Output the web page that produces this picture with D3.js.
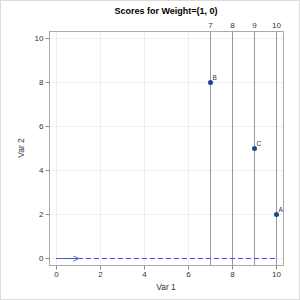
<!DOCTYPE html>
<html>
<head>
<meta charset="utf-8">
<script src="https://cdn.jsdelivr.net/npm/d3@7"></script>
<style>
  body { margin: 0; background: #fff; }
  svg { display: block; font-family: "Liberation Sans", Arial, sans-serif; }
</style>
</head>
<body>
<svg id="chart" width="300" height="300"></svg>
<script>
const pointLabels = ['A', 'B', 'C'];
const var1Values = [10, 7, 9];
const var2Values = [2, 8, 5];
const refLines = [7, 8, 9, 10];
const tickValues = [0, 2, 4, 6, 8, 10];
const weight = [1, 0];

const svg = d3.select('#chart');
const frame = { left: 49.5, right: 283.5, top: 31.5, bottom: 265.5 };

// outer border
svg.append('rect')
  .attr('x', 0.5).attr('y', 0.5)
  .attr('width', 299).attr('height', 299)
  .attr('fill', '#fff')
  .attr('stroke', '#dcdcdc');

const xScale = d3.scaleLinear().domain([0, 10]).range([56, 276]);
const yScale = d3.scaleLinear().domain([0, 10]).range([258, 38]);

// grid
svg.append('g').selectAll('line.gx')
  .data(tickValues).enter().append('line')
  .attr('x1', d => xScale(d) + 0.5).attr('x2', d => xScale(d) + 0.5)
  .attr('y1', frame.top).attr('y2', frame.bottom)
  .attr('stroke', '#efefef');
svg.append('g').selectAll('line.gy')
  .data(tickValues).enter().append('line')
  .attr('y1', d => yScale(d) + 0.5).attr('y2', d => yScale(d) + 0.5)
  .attr('x1', frame.left).attr('x2', frame.right)
  .attr('stroke', '#efefef');

// axes
svg.append('g')
  .attr('transform', 'translate(0,' + frame.bottom + ')')
  .call(d3.axisBottom(xScale).tickValues(tickValues).tickSize(4).tickPadding(2))
  .call(g => g.select('.domain').remove())
  .call(g => g.selectAll('line').attr('stroke', '#888'))
  .call(g => g.selectAll('text').attr('fill', '#333').style('font-size', '8px'));
svg.append('g')
  .attr('transform', 'translate(' + frame.left + ',0)')
  .call(d3.axisLeft(yScale).tickValues(tickValues).tickSize(4).tickPadding(2))
  .call(g => g.select('.domain').remove())
  .call(g => g.selectAll('line').attr('stroke', '#888'))
  .call(g => g.selectAll('text').attr('fill', '#333').style('font-size', '8px'));

// reference lines
svg.append('g').selectAll('line')
  .data(refLines).enter().append('line')
  .attr('x1', d => xScale(d) + 0.5).attr('x2', d => xScale(d) + 0.5)
  .attr('y1', frame.top).attr('y2', frame.bottom)
  .attr('stroke', '#999');
svg.append('g').selectAll('text')
  .data(refLines).enter().append('text')
  .attr('x', d => xScale(d) + 0.5).attr('y', 28)
  .attr('text-anchor', 'middle')
  .attr('fill', '#333')
  .style('font-size', '8px')
  .text(d => d);

// weight vector + projection line
svg.append('defs').append('marker')
  .attr('id', 'arrow')
  .attr('viewBox', '0 0 10 10')
  .attr('refX', 9).attr('refY', 5)
  .attr('markerWidth', 6).attr('markerHeight', 6)
  .attr('markerUnits', 'userSpaceOnUse')
  .attr('orient', 'auto')
  .append('path')
  .attr('d', 'M0,0 L10,5 L0,10')
  .attr('fill', 'none')
  .attr('stroke', '#3a62c6')
  .attr('stroke-width', 1.5);

svg.append('line')
  .attr('x1', xScale(weight[0])).attr('x2', xScale(10))
  .attr('y1', yScale(weight[1]) + 0.5).attr('y2', yScale(weight[1]) + 0.5)
  .attr('stroke', '#4a4aff')
  .attr('stroke-dasharray', '5,3');
svg.append('line')
  .attr('x1', xScale(0)).attr('x2', xScale(weight[0]))
  .attr('y1', yScale(0) + 0.5).attr('y2', yScale(weight[1]) + 0.5)
  .attr('stroke', '#3a62c6')
  .attr('marker-end', 'url(#arrow)');

// points
const pts = pointLabels.map((l, i) => ({ label: l, x: var1Values[i], y: var2Values[i] }));
svg.append('g').selectAll('circle')
  .data(pts).enter().append('circle')
  .attr('cx', d => xScale(d.x) + 0.5).attr('cy', d => yScale(d.y) + 0.5)
  .attr('r', 2.5)
  .attr('fill', '#1f4591');
svg.append('g').selectAll('text')
  .data(pts).enter().append('text')
  .attr('x', d => xScale(d.x) + 2.5).attr('y', d => yScale(d.y) - 2.5)
  .attr('fill', '#333')
  .style('font-size', '6.5px')
  .text(d => d.label);

// frame
svg.append('rect')
  .attr('x', frame.left).attr('y', frame.top)
  .attr('width', frame.right - frame.left).attr('height', frame.bottom - frame.top)
  .attr('fill', 'none')
  .attr('stroke', '#aaa');

// titles
svg.append('text')
  .attr('x', 166).attr('y', 14)
  .attr('text-anchor', 'middle')
  .attr('fill', '#000')
  .style('font-size', '9px').style('font-weight', 'bold')
  .text('Scores for Weight=(' + weight.join(', ') + ')');
svg.append('text')
  .attr('x', 166).attr('y', 290)
  .attr('text-anchor', 'middle')
  .attr('fill', '#333')
  .style('font-size', '8.5px')
  .text('Var 1');
svg.append('text')
  .attr('transform', 'translate(24,148) rotate(-90)')
  .attr('text-anchor', 'middle')
  .attr('fill', '#333')
  .style('font-size', '8.5px')
  .text('Var 2');
</script>
</body>
</html>
